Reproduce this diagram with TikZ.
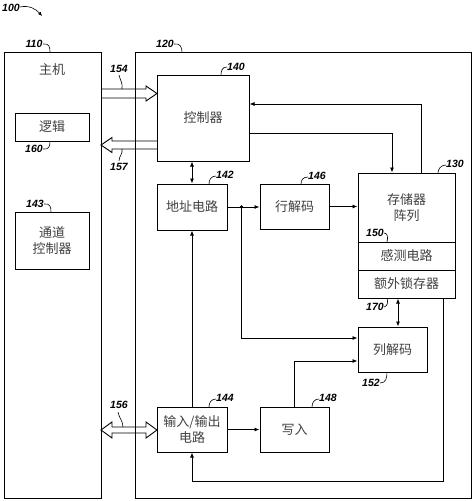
\documentclass[tikz,border=0pt]{standalone}
\usepackage{fontspec}
\setmainfont{Liberation Sans}
\newfontfamily\cjk{Noto Sans CJK SC}
\usetikzlibrary{arrows.meta,calc}

\begin{document}
\begin{tikzpicture}  % ------ Systeme 100 ---------------
      [x=1pt,y=-1pt,
       blk/.style={draw,line width=1pt,inner sep=0pt,align=center,
                   font=\cjk\fontsize{13}{16.5}\selectfont,text=black!75},
       txt/.style={inner sep=0pt,align=center,
                   font=\cjk\fontsize{13}{16.5}\selectfont,text=black!75},
       lnk/.style={line width=0.8pt,-{Latex[length=5pt,width=4pt]}},
       lnkb/.style={line width=0.8pt,{Latex[length=5pt,width=4pt]}-{Latex[length=5pt,width=4pt]}},
       num/.style={font=\bfseries\itshape\fontsize{10.5}{12}\selectfont,inner sep=0pt},
       ldr/.style={line width=0.6pt},
       hollow/.style={line width=0.9pt,line join=miter}]
    \useasboundingbox (0,0) rectangle (474,501);

    % boites
    \node[blk,minimum width=97pt,minimum height=446pt] (host) at (52.5,275) {};
    \node[blk,minimum width=336pt,minimum height=446pt] (chip) at (303,275) {};
    \node[txt] (hostT) at (52,70) {主机};
    \node[blk,minimum width=74pt,minimum height=28pt] (logic) at (52,127) {逻辑};
    \node[blk,minimum width=74pt,minimum height=57pt] (chan) at (52,240.5) {通道\\控制器};
    \node[blk,minimum width=92pt,minimum height=86pt] (ctrl) at (203,118) {控制器};
    \node[blk,minimum width=70pt,minimum height=46pt] (addr) at (192,207) {地址电路};
    \node[blk,minimum width=69pt,minimum height=45pt] (rowdec) at (294.5,206.5) {行解码};
    \node[blk,minimum width=97pt,minimum height=69pt] (mem) at (406.5,207.5) {存储器\\阵列};
    \node[blk,minimum width=97pt,minimum height=28pt] (sense) at (406.5,256) {感测电路};
    \node[blk,minimum width=97pt,minimum height=28pt] (latch) at (406.5,284) {额外锁存器};
    \node[blk,minimum width=69pt,minimum height=45pt] (coldec) at (392.5,349.5) {列解码};
    \node[blk,minimum width=70pt,minimum height=45pt] (io) at (192,429.5) {输入/输出\\电路};
    \node[blk,minimum width=69pt,minimum height=45pt] (write) at (294.5,429.5) {写入};

    % bus hote
    \draw[hollow] (101,89) -- (146,89) -- (146,86) -- (157,93.5) -- (146,101) -- (146,98) -- (101,98);
    \draw[hollow] (157,141) -- (112,141) -- (112,137.5) -- (101,145) -- (112,152.5) -- (112,149) -- (157,149);
    \draw[hollow] (112,427) -- (146,427) -- (146,422) -- (157,430) -- (146,438) -- (146,433)
                  -- (112,433) -- (112,438) -- (101,430) -- (112,422) -- cycle;

    % liaisons
    \draw[lnkb] (addr.north |- ctrl.south) -- (addr.north);
    \draw[lnk] ($(ctrl.east)+(0,15)$) -| ($(mem.north)+(-14.5,0)$);
    \draw[lnk] ($(mem.north)+(14.5,0)$) |- ($(ctrl.east)+(0,-14)$);
    \draw[lnk] (addr.east) -- (addr.east -| rowdec.west);
    \draw[lnk] (rowdec.east) -- (rowdec.east -| mem.west);
    \coordinate (j) at ($(addr.east)+(14,0)$);
    \fill (j) circle (1.8pt);
    \draw[lnk] (j) |- ($(coldec.west)+(0,-11.5)$);
    \coordinate (c1) at ($(coldec.north)+(5.5,0)$);
    \draw[lnkb] (c1 |- latch.south) -- (c1);
    \draw[lnk] (write.north) |- ($(coldec.west)+(0,11.5)$);
    \draw[lnk] (io.east) -- (write.west);
    \draw[lnk] ($(latch.south)+(36.5,0)$) -- ++(0,183) -| (io.south);
    \draw[lnk] (io.north) -- (addr.south);

    % reperes
    \node[num] (n100) at (11,8) {100};
    \draw[ldr,-{Latex[length=4pt,width=3.5pt]}] (20,7) .. controls (29,5) and (36,9) .. (42,16);
    \node[num] (n110) at (34,44) {110};
    \draw[ldr] (43,44) .. controls (49,43) and (50,47) .. (50,52);
    \node[num] (n120) at (165,44) {120};
    \draw[ldr] (174,44) .. controls (180,43) and (182,47) .. (182,52);
    \node[num] (n154) at (119,69) {154};
    \draw[ldr] (119,75) .. controls (120,80) and (123,83) .. (122,89);
    \node[num] (n157) at (119,167) {157};
    \draw[ldr] (122,149) .. controls (123,154) and (119,156) .. (119,161);
    \node[num] (n160) at (34,149) {160};
    \draw[ldr] (43,149) .. controls (49,150) and (50,146) .. (50,141);
    \node[num] (n143) at (35,204) {143};
    \draw[ldr] (44,204) .. controls (50,203) and (51,207) .. (51,212);
    \node[num] (n140) at (236,67) {140};
    \draw[ldr] (227,67) .. controls (222,67) and (221,71) .. (221,75);
    \node[num] (n142) at (225,175) {142};
    \draw[ldr] (216,176) .. controls (211,176) and (209,180) .. (209,184);
    \node[num] (n146) at (317,176) {146};
    \draw[ldr] (308,177) .. controls (303,177) and (301,180) .. (301,184);
    \node[num] (n130) at (455,164) {130};
    \draw[ldr] (446,165) .. controls (441,165) and (438,169) .. (438,173);
    \node[num] (n150) at (375,233) {150};
    \draw[ldr] (384,233) .. controls (388,233) and (388,238) .. (387,242);
    \node[num] (n170) at (375,307) {170};
    \draw[ldr] (384,307) .. controls (388,306) and (388,302) .. (387,298);
    \node[num] (n152) at (371,383) {152};
    \draw[ldr] (380,383) .. controls (386,383) and (387,378) .. (387,372);
    \node[num] (n144) at (225,398) {144};
    \draw[ldr] (216,399) .. controls (211,399) and (209,403) .. (209,407);
    \node[num] (n148) at (328,398) {148};
    \draw[ldr] (319,399) .. controls (314,399) and (312,403) .. (312,407);
    \node[num] (n156) at (119,405) {156};
    \draw[ldr] (118,412) .. controls (119,418) and (123,421) .. (123,427);
\end{tikzpicture}
\end{document}
